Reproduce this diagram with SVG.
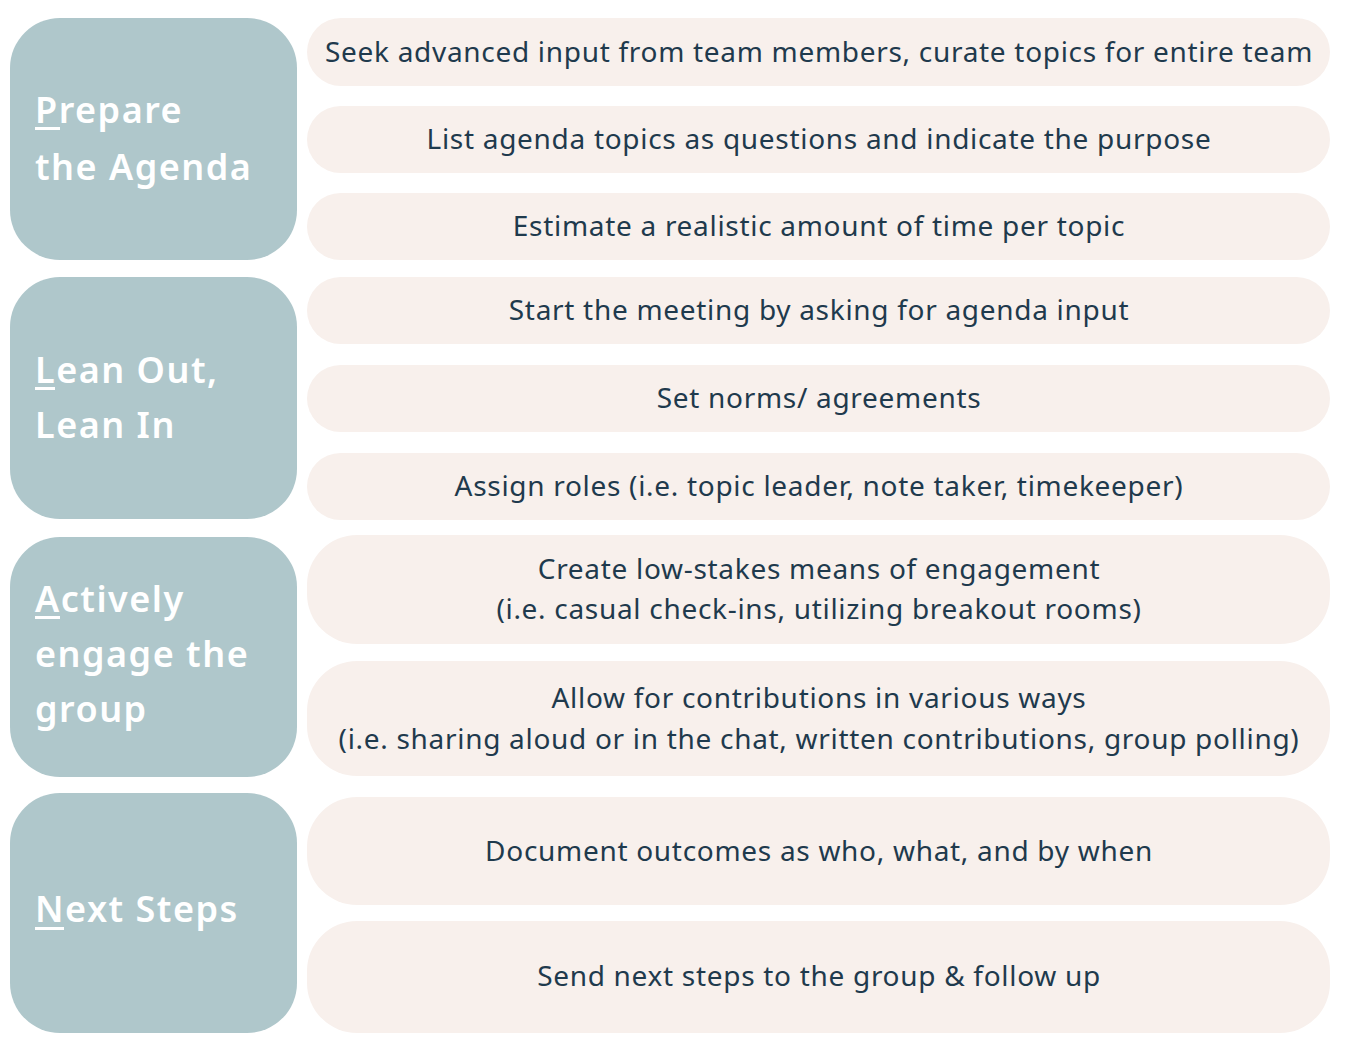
<svg xmlns="http://www.w3.org/2000/svg" width="1350" height="1050" viewBox="0 0 1350 1050">
<style>
.cat{fill:#AFC7CB}
.pill{fill:#F8F0EC}
.ct{font-family:"Noto Sans",sans-serif;font-weight:600;font-size:36px;letter-spacing:1.5px;fill:#FFFFFF}
.pt{font-family:"Noto Sans",sans-serif;font-weight:400;font-size:28px;letter-spacing:0.7px;fill:#1F3A4D;text-anchor:middle}
.ul{fill:#FFFFFF}
</style>
<rect width="1350" height="1050" fill="#FFFFFF"/>
<g id="cat-prepare">
<rect class="cat" x="10" y="18" width="287" height="242" rx="50"/>
<text class="ct" x="35" y="123">Prepare</text>
<text class="ct" x="35" y="180">the Agenda</text>
<rect class="ul" x="35" y="127" width="25" height="3"/>
</g>
<g id="cat-lean">
<rect class="cat" x="10" y="277" width="287" height="242" rx="50"/>
<text class="ct" x="35" y="383">Lean Out,</text>
<text class="ct" x="35" y="438">Lean In</text>
<rect class="ul" x="35" y="387" width="20" height="3"/>
</g>
<g id="cat-actively">
<rect class="cat" x="10" y="537" width="287" height="240" rx="50"/>
<text class="ct" x="35" y="612">Actively</text>
<text class="ct" x="35" y="667">engage the</text>
<text class="ct" x="35" y="722">group</text>
<rect class="ul" x="35" y="616" width="25" height="3"/>
</g>
<g id="cat-next">
<rect class="cat" x="10" y="793" width="287" height="240" rx="50"/>
<text class="ct" x="35" y="922">Next Steps</text>
<rect class="ul" x="35" y="927" width="29" height="3"/>
</g>
<g id="item-1"><rect class="pill" x="307" y="18" width="1023" height="68" rx="34"/><text class="pt" x="819" y="62">Seek advanced input from team members, curate topics for entire team</text></g>
<g id="item-2"><rect class="pill" x="307" y="106" width="1023" height="67" rx="33.5"/><text class="pt" x="819" y="149">List agenda topics as questions and indicate the purpose</text></g>
<g id="item-3"><rect class="pill" x="307" y="193" width="1023" height="67" rx="33.5"/><text class="pt" x="819" y="236">Estimate a realistic amount of time per topic</text></g>
<g id="item-4"><rect class="pill" x="307" y="277" width="1023" height="67" rx="33.5"/><text class="pt" x="819" y="320">Start the meeting by asking for agenda input</text></g>
<g id="item-5"><rect class="pill" x="307" y="365" width="1023" height="67" rx="33.5"/><text class="pt" x="819" y="408">Set norms/ agreements</text></g>
<g id="item-6"><rect class="pill" x="307" y="453" width="1023" height="67" rx="33.5"/><text class="pt" x="819" y="496">Assign roles (i.e. topic leader, note taker, timekeeper)</text></g>
<g id="item-7"><rect class="pill" x="307" y="535" width="1023" height="109" rx="50"/><text class="pt" x="819" y="579">Create low-stakes means of engagement</text><text class="pt" x="819" y="619">(i.e. casual check-ins, utilizing breakout rooms)</text></g>
<g id="item-8"><rect class="pill" x="307" y="661" width="1023" height="115" rx="50"/><text class="pt" x="819" y="708">Allow for contributions in various ways</text><text class="pt" x="819" y="749">(i.e. sharing aloud or in the chat, written contributions, group polling)</text></g>
<g id="item-9"><rect class="pill" x="307" y="797" width="1023" height="108" rx="50"/><text class="pt" x="819" y="861">Document outcomes as who, what, and by when</text></g>
<g id="item-10"><rect class="pill" x="307" y="921" width="1023" height="112" rx="50"/><text class="pt" x="819" y="986">Send next steps to the group &amp; follow up</text></g>
</svg>
